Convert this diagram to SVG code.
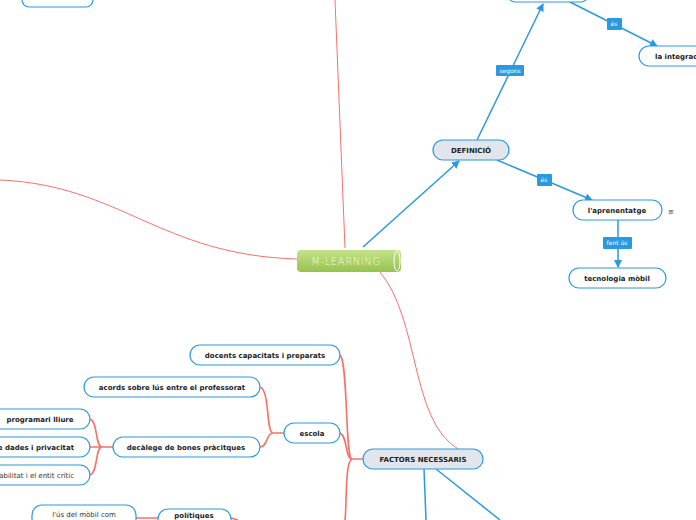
<svg xmlns="http://www.w3.org/2000/svg" width="696" height="520" viewBox="0 0 696 520">
<defs>
<linearGradient id="g" x1="0" y1="0" x2="0" y2="1"><stop offset="0" stop-color="#c4e38a"/><stop offset="1" stop-color="#97c24f"/></linearGradient>
<marker id="a" markerWidth="8" markerHeight="8" refX="7" refY="4" orient="auto" markerUnits="userSpaceOnUse"><path d="M0,0 L8,4 L0,8 Z" fill="#2a9ae0"/></marker>
</defs>
<style>
.n{fill:#fff;stroke:#2a9ae0;stroke-width:1.2}
.m{fill:#e1e5ec;stroke:#2a9ae0;stroke-width:1.2}
.t{font-family:"DejaVu Sans",sans-serif;font-size:7px;font-weight:bold;fill:#222;text-anchor:middle}
.tn{font-family:"DejaVu Sans",sans-serif;font-size:7px;fill:#333;text-anchor:middle}
.s{text-anchor:start}
.e{text-anchor:end}
.b{stroke:#2a9ae0;stroke-width:1.5;fill:none}
.r{stroke:#f87168;stroke-width:1;fill:none}
.rr{stroke:#f87168;stroke-width:1.6;fill:none}
.lb{fill:#2a9ae0}
.lt{font-family:"DejaVu Sans",sans-serif;font-size:6px;fill:#fff;text-anchor:middle}
</style>
<g id="connectors">
<path class="r" d="M345,248 L335,0"/>
<path class="r" d="M0,180 C120,185 160,255 297,259"/>
<path class="r" d="M380,272 C420,320 410,420 458,449"/>
<path class="b" d="M363,247 L459,161" marker-end="url(#a)"/>
<path class="b" d="M477,140 L543,4" marker-end="url(#a)"/>
<path class="b" d="M570,2 L657,46" marker-end="url(#a)"/>
<path class="b" d="M497,160 L592,200" marker-end="url(#a)"/>
<path class="b" d="M618,220 L618,267" marker-end="url(#a)"/>
<path class="b" d="M424,469 L426,520"/>
<path class="b" d="M436,469 L500,520"/>
<path class="rr" d="M363,459 L352,459 M352,459 C345,459 348,360 340,355 M352,459 C345,459 348,437 340,433 M352,459 C345,462 347,500 345,520"/>
<path class="rr" d="M284,433 L273,433 M273,433 C266,433 270,390 260,387 M273,433 C266,433 268,447 260,447"/>
<path class="rr" d="M113,447 L102,447 M102,447 C95,447 98,421 90,419 M102,447 L90,447 M102,447 C95,447 98,473 90,475"/>
<path class="rr" d="M136,518 L158,518 M231,518 L238,520"/>
<rect class="lb" x="496" y="65" width="28" height="11" rx="1"/><text class="lt" x="510" y="73">segons</text>
<rect class="lb" x="607" y="18" width="15" height="12" rx="1"/><text class="lt" x="614" y="26">és</text>
<rect class="lb" x="537" y="174" width="15" height="12" rx="1"/><text class="lt" x="544" y="182">és</text>
<rect class="lb" x="603" y="237" width="29" height="12" rx="1"/><text class="lt" x="617" y="245">fent ús</text>
</g>
<g id="central"><rect x="297" y="250" width="104" height="22" rx="4" fill="url(#g)"/><ellipse cx="397" cy="261" rx="3" ry="10" fill="none" stroke="#fff" stroke-width="1"/><text x="346" y="265" font-family="'DejaVu Sans',sans-serif" font-size="10" font-weight="200" letter-spacing="0.6" fill="#eef7dc" text-anchor="middle">M-LEARNING</text></g>
<g id="definicio"><rect class="m" x="433" y="140" width="76" height="20" rx="10"/><text class="t" x="471" y="153">DEFINICIÓ</text></g>
<g id="top"><rect class="n" x="508" y="-12" width="80" height="14" rx="7"/></g>
<g id="topleft"><rect class="n" x="22" y="-12" width="71" height="19" rx="7"/></g>
<g id="integracio"><rect class="n" x="639" y="46" width="70" height="20" rx="10"/><text class="t s" x="655" y="59">la integrac</text></g>
<g id="aprenentatge"><rect class="n" x="573" y="200" width="89" height="20" rx="10"/><text class="t" x="617" y="213">l'aprenentatge</text><text class="tn" x="671" y="214" font-size="9">≡</text></g>
<g id="tecnologia"><rect class="n" x="569" y="268" width="97" height="20" rx="10"/><text class="t" x="617" y="281">tecnologia mòbil</text></g>
<g id="factors"><rect class="m" x="363" y="449" width="120" height="20" rx="10"/><text class="t" x="423" y="462">FACTORS NECESSARIS</text></g>
<g id="docents"><rect class="n" x="190" y="345" width="150" height="20" rx="10"/><text class="t" x="265" y="358">docents capacitats i preparats</text></g>
<g id="escola"><rect class="n" x="284" y="423" width="56" height="20" rx="10"/><text class="t" x="312" y="436">escola</text></g>
<g id="acords"><rect class="n" x="84" y="377" width="176" height="20" rx="10"/><text class="t" x="172" y="390">acords sobre lús entre el professorat</text></g>
<g id="decalege"><rect class="n" x="113" y="437" width="147" height="20" rx="10"/><text class="t" x="186" y="450">decàlege de bones pràcitques</text></g>
<g id="programari"><rect class="n" x="-20" y="409" width="110" height="20" rx="10"/><text class="t" x="40" y="422">programari lliure</text></g>
<g id="dades"><rect class="n" x="-20" y="437" width="110" height="20" rx="10"/><text class="t e" x="74" y="450">e dades i privacitat</text></g>
<g id="critic"><rect class="n" x="-20" y="465" width="110" height="20" rx="10"/><text class="tn e" x="74" y="478">abilitat i el entit crític</text></g>
<g id="mobil"><rect class="n" x="32" y="505" width="104" height="30" rx="10"/><text class="tn" x="84" y="517">l'ús del mòbil com</text></g>
<g id="politiques"><rect class="n" x="158" y="509" width="73" height="20" rx="10"/><text class="t" x="194" y="518">polítiques</text></g>
</svg>
